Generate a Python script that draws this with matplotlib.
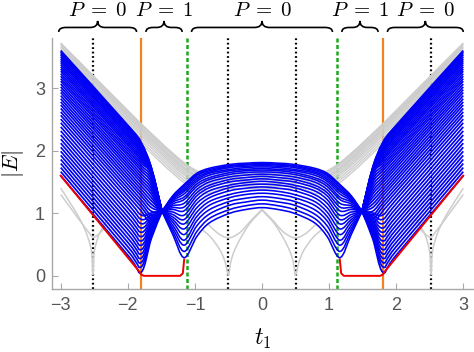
import matplotlib
matplotlib.use("Agg")
import matplotlib.pyplot as plt
import matplotlib.transforms as mtransforms
from matplotlib.path import Path
from matplotlib.patches import PathPatch

plt.rcParams['mathtext.fontset'] = 'cm'
plt.rcParams['font.family'] = ['Liberation Sans', 'DejaVu Sans']

# ---------------- data ----------------
t1_ticks = [-3, -2, -1, 0, 1, 2, 3]
E_ticks = [0, 1, 2, 3]

t_orange = [-1.8, 1.8]
t_green = [-1.12, 1.12]
t_dotted = [-2.52, -0.5, 0.5, 2.52]

phase_edges = [-3.0, -1.8, -1.12, 1.12, 1.8, 3.0]
phase_labels = [r"$P\;=\;0$", r"$P\;=\;1$", r"$P\;=\;0$", r"$P\;=\;1$", r"$P\;=\;0$"]

# outer blue band (left side, right side is its mirror image)
band_t = [-3.0, -2.0, -1.8, -1.65, -1.49]
band_E = [
    [1.600, 0.330, 0.060, 0.594, 1.03],
    [1.665, 0.398, 0.145, 0.632, 1.03],
    [1.730, 0.467, 0.214, 0.663, 1.03],
    [1.795, 0.535, 0.283, 0.694, 1.03],
    [1.860, 0.603, 0.352, 0.725, 1.03],
    [1.925, 0.671, 0.420, 0.756, 1.03],
    [1.990, 0.740, 0.489, 0.787, 1.03],
    [2.055, 0.808, 0.558, 0.818, 1.03],
    [2.120, 0.876, 0.627, 0.849, 1.03],
    [2.185, 0.944, 0.696, 0.880, 1.03],
    [2.250, 1.013, 0.765, 0.911, 1.03],
    [2.315, 1.081, 0.834, 0.942, 1.03],
    [2.380, 1.149, 0.903, 0.973, 1.03],
    [2.445, 1.217, 0.972, 1.004, 1.03],
    [2.505, 1.280, 1.035, 0.852, 1.03],
    [2.565, 1.343, 1.099, 0.916, 1.03],
    [2.620, 1.401, 1.157, 0.974, 1.03],
    [2.675, 1.459, 1.215, 1.033, 1.03],
    [2.730, 1.517, 1.274, 1.092, 1.03],
    [2.780, 1.569, 1.327, 1.145, 1.03],
    [2.830, 1.622, 1.380, 1.199, 1.03],
    [2.880, 1.674, 1.433, 1.252, 1.03],
    [2.930, 1.727, 1.486, 1.305, 1.03],
    [2.975, 1.774, 1.533, 1.353, 1.03],
    [3.020, 1.821, 1.581, 1.401, 1.03],
    [3.065, 1.868, 1.629, 1.449, 1.03],
    [3.110, 1.916, 1.677, 1.497, 1.03],
    [3.150, 1.958, 1.719, 1.540, 1.03],
    [3.190, 2.000, 1.761, 1.583, 1.03],
    [3.230, 2.042, 1.800, 1.625, 1.03],
    [3.270, 2.084, 1.836, 1.645, 1.03],
    [3.305, 2.118, 1.868, 1.654, 1.03],
    [3.340, 2.153, 1.900, 1.663, 1.03],
    [3.375, 2.188, 1.932, 1.672, 1.03],
    [3.410, 2.223, 1.964, 1.681, 1.03],
    [3.440, 2.252, 1.990, 1.689, 1.03],
    [3.470, 2.282, 2.016, 1.697, 1.03],
    [3.500, 2.311, 2.042, 1.705, 1.03],
    [3.530, 2.340, 2.068, 1.713, 1.03],
    [3.555, 2.364, 2.090, 1.720, 1.03],
    [3.580, 2.388, 2.112, 1.727, 1.03],
    [3.600, 2.407, 2.130, 1.733, 1.03],
]

# middle blue arches (left half; right half is mirror image)
arch_t = [-1.49, -1.33, -1.16, -0.97, -0.78, -0.48, -0.24, 0.0]
arch_E = [
    [1.03, 0.66, 0.29, 0.63, 0.85, 1.00, 1.06, 1.090],
    [1.03, 0.71, 0.39, 0.71, 0.92, 1.06, 1.12, 1.150],
    [1.03, 0.76, 0.49, 0.80, 0.99, 1.13, 1.18, 1.210],
    [1.03, 0.81, 0.57, 0.88, 1.06, 1.19, 1.24, 1.265],
    [1.03, 0.86, 0.66, 0.95, 1.13, 1.25, 1.30, 1.320],
    [1.03, 0.90, 0.75, 1.02, 1.19, 1.30, 1.35, 1.370],
    [1.03, 0.94, 0.83, 1.09, 1.25, 1.36, 1.40, 1.420],
    [1.03, 0.98, 0.90, 1.16, 1.30, 1.41, 1.45, 1.465],
    [1.03, 1.02, 0.97, 1.22, 1.36, 1.45, 1.49, 1.510],
    [1.03, 1.06, 1.04, 1.28, 1.41, 1.50, 1.53, 1.550],
    [1.03, 1.09, 1.10, 1.33, 1.45, 1.54, 1.57, 1.590],
    [1.03, 1.12, 1.16, 1.38, 1.50, 1.58, 1.61, 1.625],
    [1.03, 1.15, 1.22, 1.43, 1.54, 1.62, 1.65, 1.660],
    [1.03, 1.18, 1.26, 1.47, 1.57, 1.65, 1.68, 1.690],
    [1.03, 1.20, 1.31, 1.51, 1.61, 1.68, 1.70, 1.715],
    [1.03, 1.22, 1.35, 1.54, 1.64, 1.70, 1.73, 1.740],
    [1.03, 1.24, 1.38, 1.57, 1.66, 1.73, 1.75, 1.760],
    [1.03, 1.25, 1.41, 1.60, 1.68, 1.75, 1.77, 1.780],
    [1.03, 1.27, 1.44, 1.62, 1.70, 1.76, 1.78, 1.795],
    [1.03, 1.28, 1.46, 1.64, 1.72, 1.78, 1.80, 1.810],
]

# zero-energy (edge) branch, left side
red_t = [-3.0, -1.83, -1.80, -1.76, -1.22, -1.18, -1.16]
red_E = [1.60, 0.07, 0.02, 0.0, 0.0, 0.04, 0.26]

# grey fan above the outer band, flattening across the middle
fan_t = [-3.0, -1.15, -0.5, 0.5, 1.15, 3.0]
fan_start = [3.40, 3.45, 3.50, 3.54, 3.58, 3.61, 3.64, 3.66, 3.68, 3.70, 3.71, 3.72]
fan_side = [1.48, 1.52, 1.56, 1.60, 1.63, 1.66, 1.69, 1.71, 1.73, 1.76, 1.78, 1.80]
fan_centre = [1.40, 1.44, 1.48, 1.52, 1.55, 1.58, 1.61, 1.63, 1.65, 1.68, 1.70, 1.72]

# grey low-lying curves (left half; mirrored to the right)
gray_t = [
    [-3.0, -2.85, -2.7, -2.6, -2.54, -2.52, -2.50, -2.44, -2.36, -2.3],
    [-3.0, -2.85, -2.7, -2.6, -2.52, -2.44, -2.35],
    [-0.88, -0.75, -0.62, -0.55, -0.5, -0.47, -0.42, -0.32, -0.18, 0.0],
    [-0.80, -0.68, -0.58, -0.5, -0.42, -0.3, -0.15, 0.0],
]
gray_E = [
    [1.40, 1.15, 0.88, 0.63, 0.38, 0.02, 0.38, 0.63, 0.80, 0.90],
    [1.30, 1.08, 0.86, 0.72, 0.62, 0.66, 0.76],
    [0.73, 0.60, 0.40, 0.22, 0.01, 0.20, 0.38, 0.60, 0.84, 1.05],
    [0.82, 0.70, 0.63, 0.61, 0.63, 0.72, 0.90, 1.06],
]

# ---------------- figure ----------------
fig = plt.figure(figsize=(4.74, 3.52), dpi=100)
ax = fig.add_axes([52/474, 63/352, 422/474, 251/352])
ax.set_xlim(-3.13, 3.16)
ax.set_ylim(-0.21, 3.80)

BLUE = '#0000f5'
GRAY = '#cdcdcd'


def mirror(ts):
    return [-t for t in ts]


def smooth(ax, ts, es, **kw):
    """Draw a curve through the sampled points using Catmull-Rom Beziers."""
    pts = list(zip(ts, es))
    n = len(pts)
    verts = [pts[0]]
    codes = [Path.MOVETO]
    for i in range(n - 1):
        p0 = pts[i - 1] if i > 0 else pts[i]
        p1 = pts[i]
        p2 = pts[i + 1]
        p3 = pts[i + 2] if i + 2 < n else pts[i + 1]
        c1 = (p1[0] + (p2[0] - p0[0]) / 6, p1[1] + (p2[1] - p0[1]) / 6)
        c2 = (p2[0] - (p3[0] - p1[0]) / 6, p2[1] - (p3[1] - p1[1]) / 6)
        verts += [c1, c2, p2]
        codes += [Path.CURVE4] * 3
    ax.add_patch(PathPatch(Path(verts, codes), fill=False, **kw))


# vertical reference lines
for t in t_orange:
    ax.axvline(t, color='#f5821f', lw=1.6, zorder=1)
for t in t_green:
    ax.axvline(t, color='#1ca81c', lw=1.8, ls=(0, (1.6, 1.0)), zorder=1)
for t in t_dotted:
    ax.axvline(t, color='black', lw=1.6, ls=(0, (0.8, 1.2)), zorder=1)

# grey curves
for s, e, c in zip(fan_start, fan_side, fan_centre):
    smooth(ax, fan_t, [s, e, c, c, e, s], edgecolor=GRAY, lw=1.0, zorder=2)
for ts, es in zip(gray_t, gray_E):
    smooth(ax, ts, es, edgecolor=GRAY, lw=1.1, zorder=2)
    smooth(ax, mirror(ts), es, edgecolor=GRAY, lw=1.1, zorder=2)

# blue outer bands
for row in band_E:
    smooth(ax, band_t, row, edgecolor=BLUE, lw=1.25, zorder=3)
    smooth(ax, mirror(band_t), row, edgecolor=BLUE, lw=1.25, zorder=3)

# blue middle arches
arch_full_t = arch_t + mirror(arch_t[:-1])[::-1]
for row in arch_E:
    smooth(ax, arch_full_t, row + row[-2::-1], edgecolor=BLUE, lw=1.15, zorder=3)

# red edge branch
ax.plot(red_t, red_E, color='#ee0000', lw=1.4, zorder=4, solid_joinstyle='round')
ax.plot(mirror(red_t), red_E, color='#ee0000', lw=1.4, zorder=4, solid_joinstyle='round')

# axes styling
for side in ['top', 'right']:
    ax.spines[side].set_visible(False)
for side in ['left', 'bottom']:
    ax.spines[side].set_color('#a8a8a8')
    ax.spines[side].set_linewidth(1.0)
ax.set_xticks(t1_ticks)
ax.set_yticks(E_ticks)
ax.tick_params(direction='in', length=4, width=0.8, color='#a8a8a8',
               labelcolor='#555555', labelsize=13)
ax.tick_params(axis='x', pad=6)
ax.tick_params(axis='y', pad=5)

ax.set_xlabel(r'$t_1$', fontsize=17)
ax.set_ylabel(r'$|E|$', fontsize=16)
ax.xaxis.set_label_coords(0.5, -0.15)
ax.yaxis.set_label_coords(-0.062, 0.5)

# braces with phase labels
trans = mtransforms.blended_transform_factory(ax.transData, ax.transAxes)
y_end, y_body, y_tip = 1.024, 1.042, 1.068
gap = 0.07
for (a, b), lab in zip(zip(phase_edges[:-1], phase_edges[1:]), phase_labels):
    x0 = a + (gap if a > -3 else -0.03)
    x1 = b - (gap if b < 3 else 0.0)
    xm = 0.5 * (x0 + x1)
    r = min(0.11, (x1 - x0) / 5)
    verts = [(x0, y_end), (x0, y_body), (x0 + r, y_body),
             (xm - r, y_body),
             (xm, y_body), (xm, y_tip),
             (xm, y_body), (xm + r, y_body),
             (x1 - r, y_body),
             (x1, y_body), (x1, y_end)]
    codes = [Path.MOVETO, Path.CURVE3, Path.CURVE3,
             Path.LINETO,
             Path.CURVE3, Path.CURVE3,
             Path.CURVE3, Path.CURVE3,
             Path.LINETO,
             Path.CURVE3, Path.CURVE3]
    ax.add_patch(PathPatch(Path(verts, codes), transform=trans, fill=False,
                           lw=1.2, color='black', clip_on=False))
    ax.text(xm, 1.088, lab, transform=trans, ha='center', va='baseline',
            fontsize=15, clip_on=False)

fig.savefig('out.png', dpi=100)
